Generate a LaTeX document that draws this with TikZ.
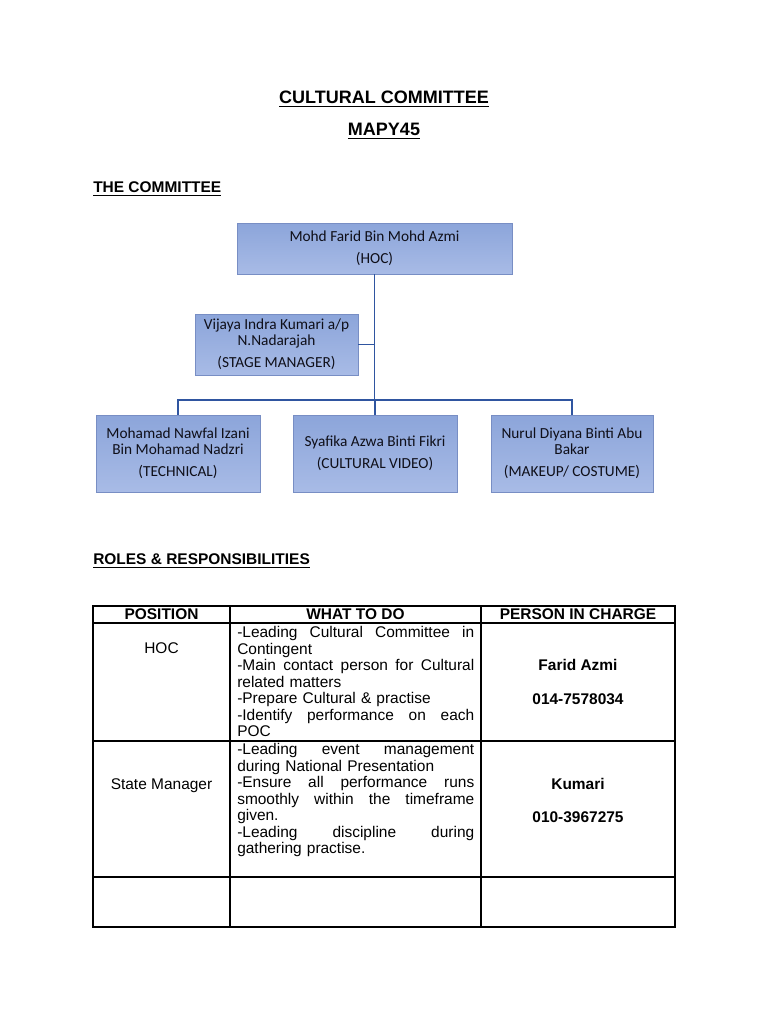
\documentclass[tikz,border=0pt]{standalone}
\usepackage{fontspec}
\setmainfont{Liberation Sans}
\newfontfamily\boxfont{Carlito}
\definecolor{boxtop}{RGB}{140,165,218}
\definecolor{boxbot}{RGB}{168,187,230}
\definecolor{boxline}{RGB}{120,142,196}
\definecolor{conn}{RGB}{47,85,160}
\definecolor{boxtext}{RGB}{15,15,25}
\newlength\cw
\setlength\cw{177.75pt}
\newcommand{\jl}[1]{\leavevmode\hbox to\cw{\strut #1}}
\tikzset{
  orgbox/.style={draw=boxline, line width=0.7pt, top color=boxtop, bottom color=boxbot,
    rectangle, align=center, inner sep=0pt, text=boxtext,
    font=\boxfont\fontsize{11.5pt}{12pt}\selectfont},
  connector/.style={draw=conn, line width=1.1pt},
  title/.style={font=\fontsize{13.5pt}{16pt}\selectfont\bfseries, inner sep=0pt},
  heading/.style={font=\fontsize{11.6pt}{14pt}\selectfont\bfseries, inner sep=0pt, anchor=west},
  cell/.style={font=\fontsize{11.6pt}{12.375pt}\selectfont, inner sep=0pt, text height=8.5pt, text depth=2.5pt},
  boldcell/.style={cell, font=\fontsize{11.6pt}{12.375pt}\selectfont\bfseries},
  para/.style={font=\fontsize{11.6pt}{12.375pt}\selectfont, inner sep=0pt, anchor=north west, align=left, text width=\cw},
  grid/.style={draw=black, line width=0.9pt}
}
\begin{document}
\begin{tikzpicture}[x=0.75pt,y=-0.75pt]
\useasboundingbox (0,0) rectangle (768,1024);
\fill[white] (0,0) rectangle (768,1024);

% titles
\node[title] (t1) at (384,99) {\underline{CULTURAL COMMITTEE}};
\node[title] (t2) at (384,131) {\underline{MAPY45}};
\node[heading] (h1) at (93,189) {\underline{THE COMMITTEE}};

% org chart
\node[orgbox, minimum width=275*0.75pt, minimum height=51*0.75pt] (hoc) at (374.5,248.5)
  {Mohd Farid Bin Mohd Azmi\\[4.5pt] (HOC)};
\node[orgbox, minimum width=163*0.75pt, minimum height=61*0.75pt] (sm) at (276.5,344.5)
  {Vijaya Indra Kumari a/p\\ N.Nadarajah\\[4.5pt] (STAGE MANAGER)};
\node[orgbox, minimum width=164*0.75pt, minimum height=77*0.75pt] (b1) at (178,453.5)
  {Mohamad Nawfal Izani\\ Bin Mohamad Nadzri\\[4.5pt] (TECHNICAL)};
\node[orgbox, minimum width=164*0.75pt, minimum height=77*0.75pt] (b2) at (375,453.5)
  {Syafika Azwa Binti Fikri\\[4.5pt] (CULTURAL VIDEO)};
\node[orgbox, minimum width=162*0.75pt, minimum height=77*0.75pt] (b3) at (572,453.5)
  {Nurul Diyana Binti Abu\\ Bakar\\[4.5pt] (MAKEUP/ COSTUME)};

\coordinate (j) at (375,400);
\draw[connector] (hoc.south) -- (hoc.south |- j);
\draw[connector] (sm.east) -- (sm.east -| hoc.south);
\draw[connector] (b1.north) |- (j) -| (b3.north);
\draw[connector] (j) -- (b2.north);

% roles
\node[heading] (h2) at (93,561) {\underline{ROLES \& RESPONSIBILITIES}};

% table grid
\draw[grid] (93,606) rectangle (675,927);
\draw[grid] (230,606) -- (230,927);
\draw[grid] (481,606) -- (481,927);
\draw[grid] (93,623) -- (675,623);
\draw[grid] (93,741) -- (675,741);
\draw[grid] (93,877) -- (675,877);

% headers
\node[boldcell] (c11) at (161.5,615.5) {POSITION};
\node[boldcell] (c12) at (355.5,615.5) {WHAT TO DO};
\node[boldcell] (c13) at (578,615.5) {PERSON IN CHARGE};

% row 1
\node[cell] (c21) at (161.5,649.5) {HOC};
\node[para] (c22) at (237,626) {\jl{-Leading\hfill Cultural\hfill Committee\hfill in}\\
Contingent\\
\jl{-Main\hfill contact\hfill person\hfill for\hfill Cultural}\\
related matters\\
-Prepare Cultural \& practise\\
\jl{-Identify\hfill performance\hfill on\hfill each}\\
POC};
\node[boldcell] (c23a) at (578,666.5) {Farid Azmi};
\node[boldcell] (c23b) at (578,700.5) {014-7578034};

% row 2
\node[cell] (c31) at (161.5,785.5) {State Manager};
\node[para] (c32) at (237,743) {\jl{-Leading\hfill event\hfill management}\\
during National Presentation\\
\jl{-Ensure\hfill all\hfill performance\hfill runs}\\
\jl{smoothly\hfill within\hfill the\hfill timeframe}\\
given.\\
\jl{-Leading\hfill discipline\hfill during}\\
gathering practise.};
\node[boldcell] (c33a) at (578,785.5) {Kumari};
\node[boldcell] (c33b) at (578,818.5) {010-3967275};
\end{tikzpicture}
\end{document}
